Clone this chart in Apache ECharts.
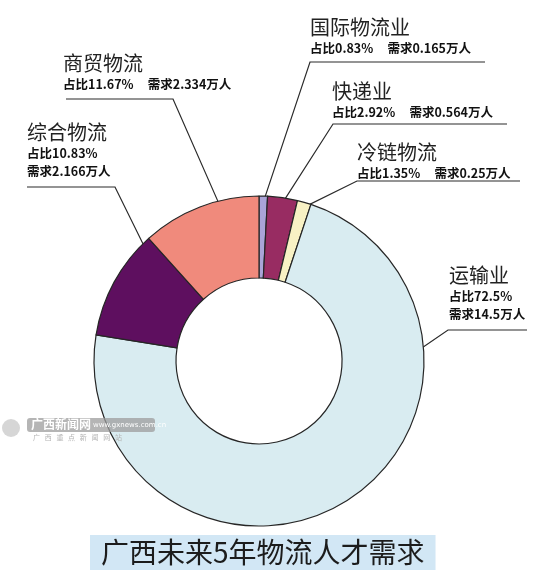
<!DOCTYPE html>
<html>
<head>
<meta charset="utf-8">
<script src="https://cdn.jsdelivr.net/npm/echarts@6/dist/echarts.min.js"></script>
<style>
html,body{margin:0;padding:0;background:#fff;}
#main{width:550px;height:581px;}
</style>
</head>
<body>
<div id="main"></div>
<script>
// ---- data ----
const categories = ['国际物流业', '快递业', '冷链物流', '运输业', '综合物流', '商贸物流'];
const shares = [0.83, 2.92, 1.35, 72.5, 10.83, 11.67];          // 占比 %
const demandText = ['0.165', '0.564', '0.25', '14.5', '2.166', '2.334']; // 需求 万人
const shareText = ['0.83', '2.92', '1.35', '72.5', '10.83', '11.67'];
const colors = ['#aaa4d8', '#982c62', '#f8f1c4', '#d9ecf1', '#5e0f5f', '#f08a7c'];
const titleText = '广西未来5年物流人才需求';

// ---- label placement (layout only) ----
const labelCfg = [
  {x: 310, y: 15,  lineY: 62,  near: 310, far: 485, frac: 0.5,  depth: 0.92, stacked: false},
  {x: 332, y: 79,  lineY: 124, near: 333, far: 507, frac: 0.5,  depth: 0.92, stacked: false},
  {x: 357, y: 140, lineY: 181, near: 357, far: 520, frac: 0.5,  depth: 0.93, stacked: false},
  {x: 449, y: 263, lineY: 330, near: 448, far: 527, frac: 0.27, depth: 0.8,  stacked: true},
  {x: 27,  y: 120, lineY: 187, near: 115, far: 27,  frac: 0.74, depth: 0.45, stacked: true},
  {x: 63,  y: 51,  lineY: 99,  near: 173, far: 66,  frac: 0.7,  depth: 0.67, stacked: false}
];

const chart = echarts.init(document.getElementById('main'), null, {renderer: 'canvas'});

function subLines(i) {
  const a = '占比' + shareText[i] + '%';
  const b = '需求' + demandText[i] + '万人';
  return labelCfg[i].stacked ? [a, b] : [a + '     ' + b];
}

const pieData = categories.map((c, i) => ({
  name: c,
  value: shares[i],
  itemStyle: {color: colors[i]}
}));

const option = {
  backgroundColor: '#ffffff',
  animation: false,
  title: {
    text: titleText,
    left: 90,
    top: 535,
    padding: [0, 11],
    backgroundColor: '#d2e7f5',
    textStyle: {
      fontFamily: 'Noto Sans CJK SC',
      fontSize: 28,
      fontWeight: 'normal',
      color: '#1c1c1c',
      lineHeight: 35
    }
  },
  series: [{
    type: 'pie',
    center: [259, 361],
    radius: [83, 165],
    startAngle: 90,
    clockwise: true,
    avoidLabelOverlap: false,
    data: pieData,
    itemStyle: {borderColor: '#262626', borderWidth: 1.2},
    label: {
      show: true,
      position: 'outside',
      fontFamily: 'Noto Sans CJK SC',
      formatter: function (p) {
        return '{t|' + p.name + '}\n' + subLines(p.dataIndex).map(s => '{s|' + s + '}').join('\n');
      },
      rich: {
        t: {fontSize: 20, lineHeight: 24, color: '#222', fontFamily: 'Noto Sans CJK SC'},
        s: {fontSize: 12.5, lineHeight: 18, color: '#111', fontWeight: 'bold', fontFamily: 'Noto Sans CJK SC'}
      }
    },
    labelLine: {
      show: true,
      length: 10,
      length2: 10,
      lineStyle: {color: '#2a2a2a', width: 1.2}
    },
    labelLayout: function (params) {
      const i = params.dataIndex;
      const cfg = labelCfg[i];
      let p0 = params.labelLinePoints ? params.labelLinePoints[0] : [cfg.near, cfg.lineY];
      try {
        const lay = chart.getModel().getSeriesByIndex(0).getData().getItemLayout(i);
        const a = lay.startAngle + cfg.frac * (lay.endAngle - lay.startAngle);
        const rr = lay.r0 + cfg.depth * (lay.r - lay.r0);
        p0 = [lay.cx + rr * Math.cos(a), lay.cy + rr * Math.sin(a)];
      } catch (e) {}
      return {
        x: cfg.x,
        y: cfg.y,
        align: 'left',
        verticalAlign: 'top',
        labelLinePoints: [p0, [cfg.near, cfg.lineY], [cfg.far, cfg.lineY]]
      };
    }
  }],
  graphic: [{
    type: 'group',
    left: 2,
    top: 418,
    z: 100,
    zlevel: 1,
    silent: true,
    children: [
      {type: 'rect', z: 100, shape: {x: 30, y: 4, width: 128, height: 14, r: 3}, style: {fill: '#9c9c9c', opacity: 0.75}},
      {type: 'circle', z: 100, shape: {cx: 14, cy: 14, r: 9}, style: {fill: '#c4c4c4', opacity: 0.7}},
      {type: 'text', z: 101, style: {x: 34, y: 4, text: '广西新闻网', fill: '#ffffff', font: 'bold 12px "Noto Sans CJK SC"'}},
      {type: 'text', z: 101, style: {x: 96, y: 8, text: 'www.gxnews.com.cn', fill: '#ffffff', font: '7px "DejaVu Sans"'}},
      {type: 'text', z: 101, style: {x: 36, y: 20, text: '广   西   重   点   新   闻   网   站', fill: '#b4b4b4', font: '7px "Noto Sans CJK SC"'}}
    ]
  }]
};

chart.setOption(option);
</script>
</body>
</html>
